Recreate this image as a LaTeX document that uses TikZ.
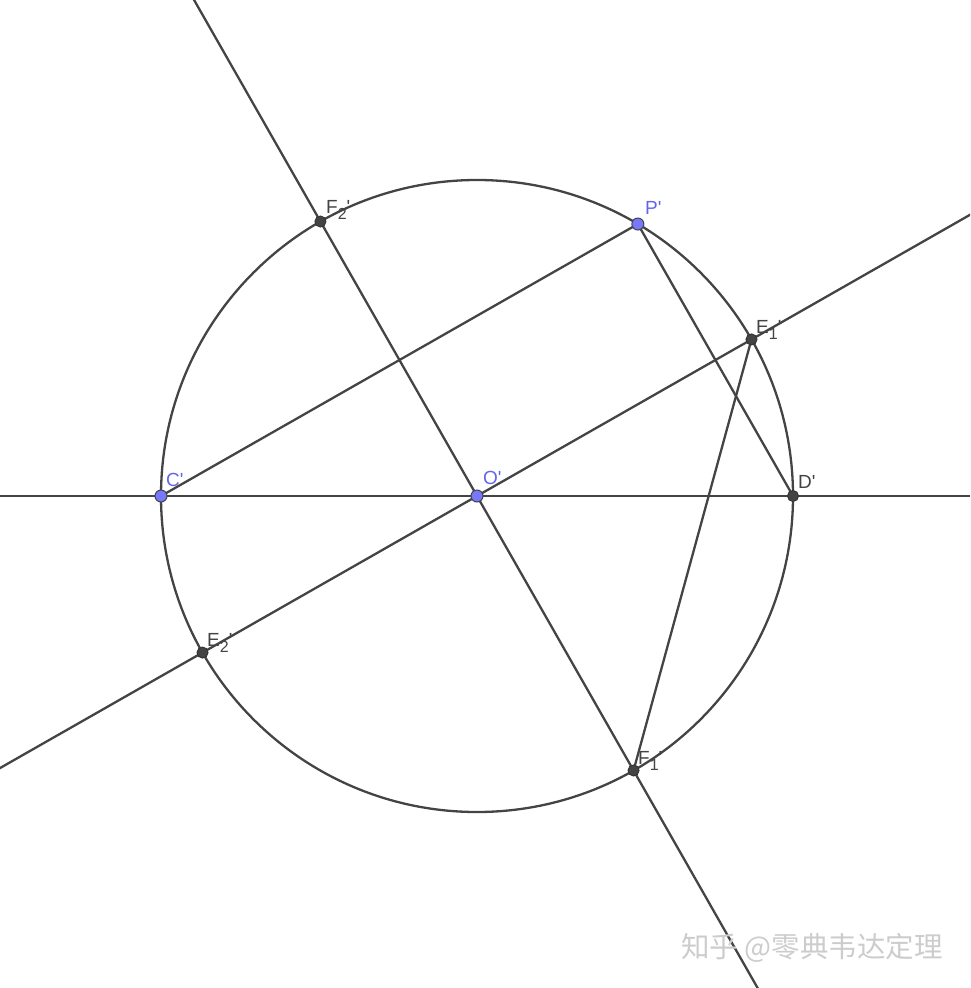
\documentclass[tikz,border=0pt]{standalone}
\usepackage{fontspec}
\setmainfont{Liberation Sans}
\newfontfamily\cjk{Noto Sans CJK SC}
\usetikzlibrary{calc}
\definecolor{linegray}{RGB}{68,68,68}
\definecolor{ptblue}{RGB}{120,120,255}
\definecolor{lblblue}{RGB}{100,100,235}
\newcommand{\lowsub}[1]{\raisebox{-6pt}{\fontsize{16}{16}\selectfont #1}}
\newcommand{\pr}{\textquotesingle}

\begin{document}
\begin{tikzpicture}[x=1pt,y=-1pt,
    ln/.style={linegray,line width=2.3pt},
    bluept/.style={circle,fill=ptblue,draw=linegray,line width=1pt,inner sep=0pt,minimum size=12pt},
    blackpt/.style={circle,fill=linegray,draw=linegray!80!black,line width=1pt,inner sep=0pt,minimum size=11pt},
    lbl/.style={anchor=base west,inner sep=0pt,font=\fontsize{19}{19}\selectfont},
    bluelbl/.style={lbl,text=lblblue},
    blacklbl/.style={lbl,text=linegray}]
    \useasboundingbox (0,0) rectangle (970,988);

    % Circle and its points
    \coordinate (O) at (477,496);
    \coordinate (C) at ($(O)+(180:316pt)$);
    \coordinate (D) at ($(O)+(0:316pt)$);
    \coordinate (P) at ($(O)+(59.4:316pt)$);
    \coordinate (E1) at ($(O)+(29.7:316pt)$);
    \coordinate (E2) at ($(O)+(209.7:316pt)$);
    \coordinate (F1) at ($(O)+(-60.3:316pt)$);
    \coordinate (F2) at ($(O)+(119.7:316pt)$);

    % Far ends of the lines
    \coordinate (Lft) at (0,496);
    \coordinate (Rgt) at (970,496);
    \coordinate (Ea) at ($(O)!4!(E1)$);
    \coordinate (Eb) at ($(O)!4!(E2)$);
    \coordinate (Fa) at ($(O)!4!(F1)$);
    \coordinate (Fb) at ($(O)!4!(F2)$);

    % Lines
    \begin{scope}
        \clip (0,0) rectangle (970,988);
        \draw[ln] (Lft) -- (Rgt);
        \draw[ln] (Eb) -- (Ea);
        \draw[ln] (Fb) -- (Fa);
    \end{scope}
    \draw[ln] (O) circle[radius=316pt];

    % Segments
    \draw[ln] (C) -- (P) -- (D);
    \draw[ln] (E1) -- (F1);

    % Points
    \node[bluept] (Cpt) at (C) {};
    \node[bluept] (Opt) at (O) {};
    \node[bluept] (Ppt) at (P) {};
    \node[blackpt] (Dpt) at (D) {};
    \node[blackpt] (E1pt) at (E1) {};
    \node[blackpt] (E2pt) at (E2) {};
    \node[blackpt] (F1pt) at (F1) {};
    \node[blackpt] (F2pt) at (F2) {};

    % Labels
    \node[bluelbl] (Clbl) at (166,486) {C\pr};
    \node[bluelbl] (Olbl) at (483,484) {O\pr};
    \node[bluelbl] (Plbl) at (645,214) {P\pr};
    \node[blacklbl] (Dlbl) at (798,488) {D\pr};
    \node[blacklbl] (E1lbl) at (756,333) {E\lowsub{1}\pr};
    \node[blacklbl] (E2lbl) at (207,646) {E\lowsub{2}\pr};
    \node[blacklbl] (F1lbl) at (638,764) {F\lowsub{1}\pr};
    \node[blacklbl] (F2lbl) at (326,213) {F\lowsub{2}\pr};

    % Watermark
    \node[anchor=west,inner sep=0pt,text=gray!40,font=\cjk\fontsize{28.5}{28.5}\selectfont] (mark) at (681,948) {知乎 @零典韦达定理};

\end{tikzpicture}
\end{document}
